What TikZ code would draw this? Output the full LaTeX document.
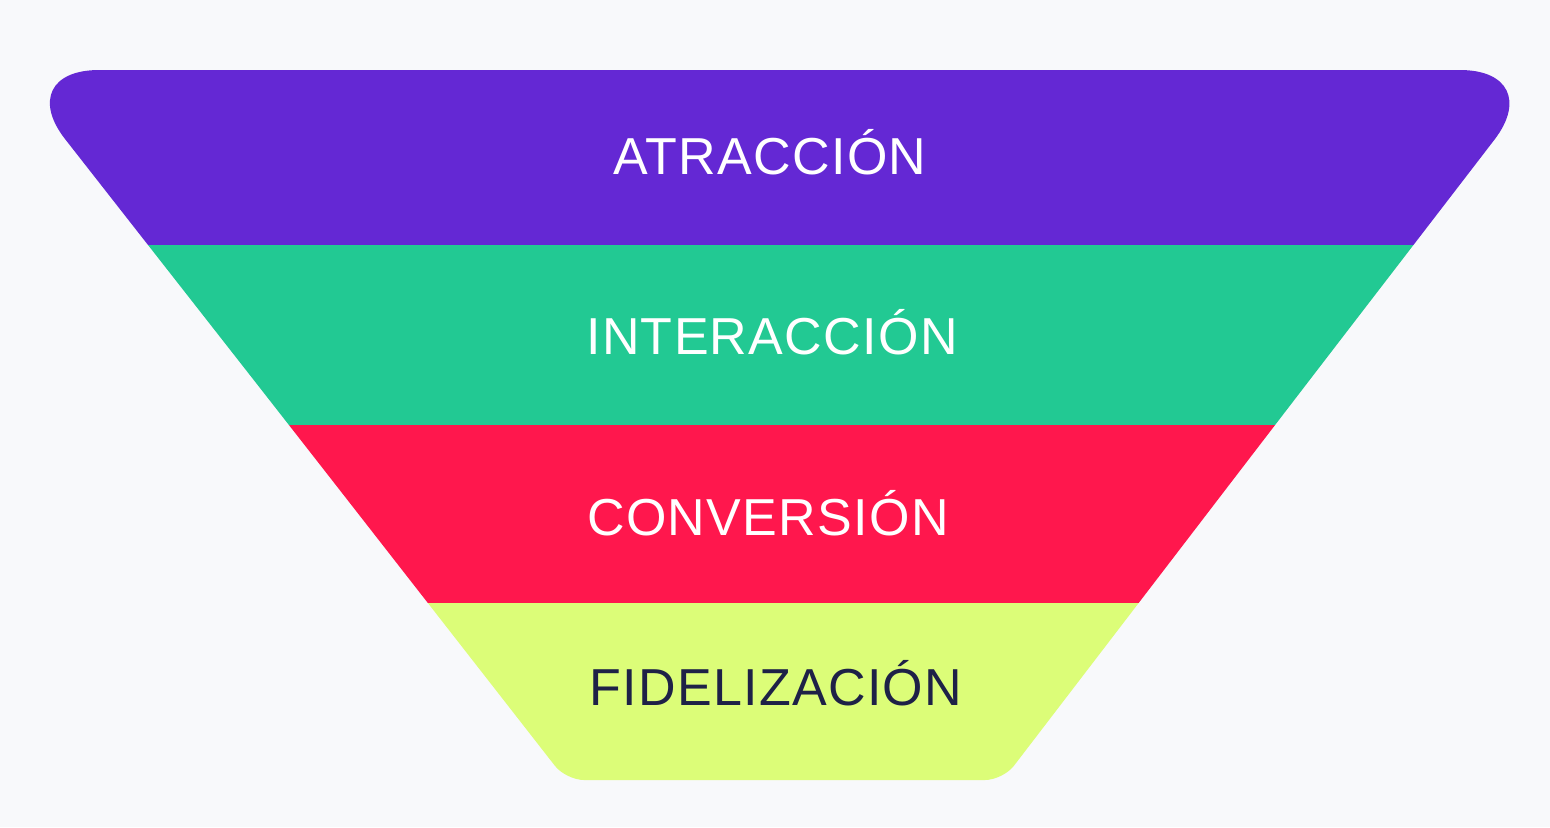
\documentclass[tikz,border=0pt]{standalone}
\usepackage{fontspec}
\setmainfont{Liberation Sans}
\newfontfamily\stagefont[LetterSpace=2.5]{Liberation Sans}
\usepackage{tikz}
\usetikzlibrary{positioning, calc, backgrounds}
\definecolor{PaperGrey}{HTML}{F8F9FB}
\definecolor{FunnelPurple}{HTML}{6428D4}
\definecolor{FunnelGreen}{HTML}{22C993}
\definecolor{FunnelRed}{HTML}{FF174D}
\definecolor{FunnelLime}{HTML}{DCFD78}
\definecolor{InkNavy}{HTML}{1E2147}

\tikzset{
    stagelabel/.style={anchor=base, inner sep=0pt, font=\stagefont\fontsize{26}{30}\selectfont},
}

\begin{document}
\begin{tikzpicture}[x=0.5pt, y=-0.5pt]
    \useasboundingbox[fill=PaperGrey] (0,0) rectangle (1550,827);

    % funnel outline, everything below is clipped to it
    \begin{scope}
        \clip (780,70) [rounded corners=44pt] -- (1548,70) -- (1275,425)
              [rounded corners=9pt] -- (1003,780) -- (566,780)
              [rounded corners=44pt] -- (289,425) -- (11,70) -- cycle;
        \fill[FunnelPurple] (0,0)   rectangle (1550,245);
        \fill[FunnelGreen]  (0,245) rectangle (1550,425);
        \fill[FunnelRed]    (0,425) rectangle (1550,603);
        \fill[FunnelLime]   (0,603) rectangle (1550,827);
    \end{scope}

    \node[stagelabel, text=white]   (attract)  at (770,174) {ATRACCIÓN};
    \node[stagelabel, text=white]   (interact) at (772,354) {INTERACCIÓN};
    \node[stagelabel, text=white]   (convert)  at (768,535) {CONVERSIÓN};
    \node[stagelabel, text=InkNavy] (loyalty)  at (776,705) {FIDELIZACIÓN};
\end{tikzpicture}
\end{document}
